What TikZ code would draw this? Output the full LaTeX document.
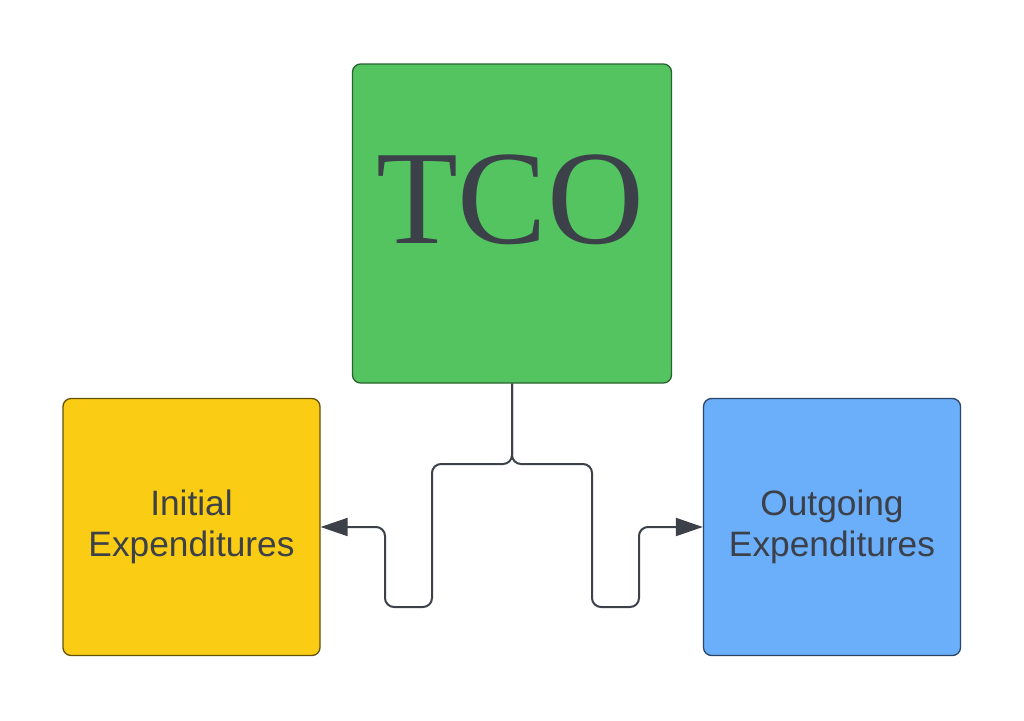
\documentclass[tikz,border=0pt]{standalone}
\usepackage{fontspec}
\setmainfont{Liberation Sans}
\newfontfamily\tcoserif{Liberation Serif}
\definecolor{gfill}{RGB}{83,196,95}
\definecolor{yfill}{RGB}{250,204,20}
\definecolor{bfill}{RGB}{107,174,250}
\definecolor{ink}{RGB}{59,64,73}
\tikzset{
  box/.style={draw, line width=1.3pt, rounded corners=8pt, minimum width=#1, minimum height=#1, inner sep=0pt, align=center, text=ink, font=\fontsize{35.3}{41}\selectfont},
  conn/.style={draw=ink, line width=2pt, rounded corners=9pt, -{Triangle[length=27pt,width=18pt]}},
}
\usetikzlibrary{arrows.meta}
\begin{document}
\begin{tikzpicture}[x=1pt,y=-1pt]
\useasboundingbox[fill=white] (0,0) rectangle (1024,720);
\node[box=319pt, fill=gfill, draw=gfill!50!black] (tco) at (512,223.5) {};
\node[font=\tcoserif\fontsize{134}{134}\selectfont, text=ink] (tcot) at (510,200) {TCO};
\node[box=257pt, fill=yfill, draw=yfill!40!black] (ie) at (191.5,527) {Initial\\Expenditures};
\node[box=257pt, fill=bfill, draw=bfill!40!black] (oe) at (832,527) {Outgoing\\Expenditures};
\coordinate (j) at (512,464);
\draw[conn] (tco.south) -- (j) -- (432,464) -- (432,607) -- (385,607) -- (385,527) -- (ie.east);
\draw[conn] (tco.south) -- (j) -- (592,464) -- (592,607) -- (639,607) -- (639,527) -- (oe.west);
\end{tikzpicture}
\end{document}
